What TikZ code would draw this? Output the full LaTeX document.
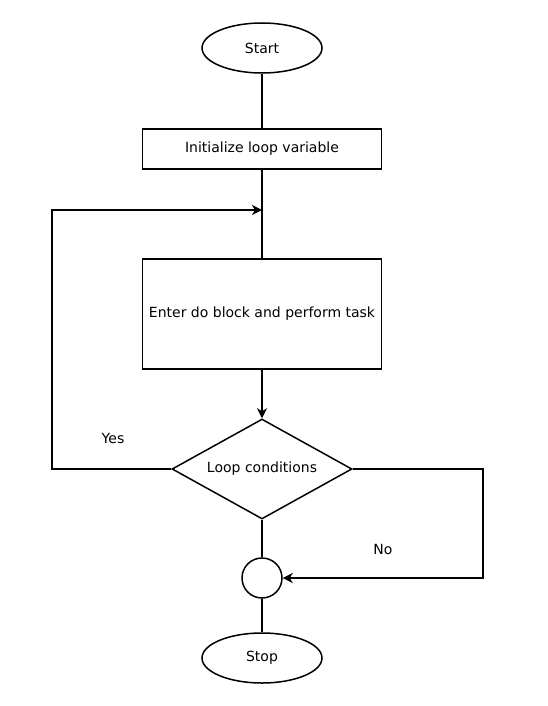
\documentclass[tikz,border=0pt]{standalone}
\usepackage{fontspec}
\setmainfont{DejaVu Sans}
\usetikzlibrary{shapes.geometric,arrows.meta}

\tikzset{
    terminal/.style={draw, ellipse, minimum width=120pt, minimum height=50pt, inner sep=0pt},
    process/.style={draw, rectangle, minimum width=239pt, inner sep=0pt},
    decision/.style={draw, diamond, aspect=1.8, minimum width=180pt, minimum height=100pt, inner sep=0pt},
    joint/.style={draw, circle, minimum size=40pt, inner sep=0pt},
    flow/.style={-{Stealth[length=10pt,width=10pt,inset=3pt]}}
}

\begin{document}
\begin{tikzpicture}[x=1pt, y=-1pt, line width=1.5pt, font=\fontsize{14}{16}\selectfont]
    \useasboundingbox (0,0) rectangle (547,706);
    \node[terminal] (start) at (262,48) {Start};
    \node[process, minimum height=40pt] (init) at (262,149) {Initialize loop variable};
    \node[process, minimum height=110pt] (task) at (262,314) {Enter do block and perform task};
    \node[decision] (cond) at (262,469) {Loop conditions};
    \node[joint] (merge) at (262,578) {};
    \node[terminal] (stop) at (262,658) {Stop};
    \node (yes) at (113,438) {Yes};
    \node (no) at (383,549) {No};
    \coordinate (back) at (262,210);
    \coordinate (yesturn) at (52,210);
    \coordinate (noturn) at (483,578);
    \draw (start) -- (init);
    \draw (init) -- (task);
    \draw[flow] (task) -- (cond);
    \draw[flow] (cond.west) -| (yesturn) -- (back);
    \draw[flow] (cond.east) -| (noturn) -- (merge);
    \draw (cond) -- (merge);
    \draw (merge) -- (stop);
\end{tikzpicture}
\end{document}
